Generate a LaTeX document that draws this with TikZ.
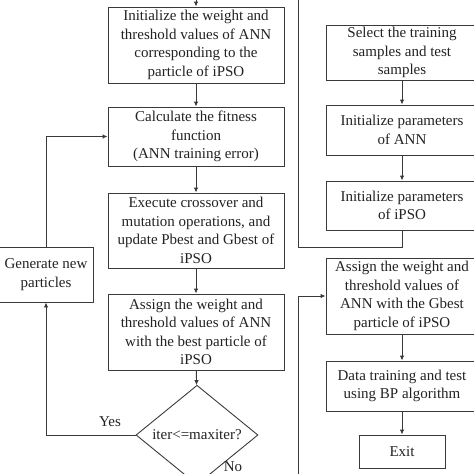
\documentclass[tikz,border=0pt]{standalone}
\usepackage{fontspec}
\setmainfont{Liberation Serif}
\usepackage{tikz}
\usetikzlibrary{shapes.geometric, arrows.meta}
\definecolor{lineColor}{HTML}{3A3A3A}
\definecolor{textColor}{HTML}{222222}

\begin{document}
\begin{tikzpicture}[x=1pt, y=1pt,
    box/.style={draw=lineColor, line width=0.9pt, align=center, inner sep=0pt,
        text=textColor, font=\fontsize{15}{18.5}\selectfont},
    arr/.style={draw=lineColor, line width=0.9pt, -{Latex[length=5pt, width=4.5pt]}},
    lbl/.style={text=textColor, font=\fontsize{15}{18.5}\selectfont}]
    \useasboundingbox (0,0) rectangle (474,-474);
    \clip (0,0) rectangle (474,-474);

    % left loop
    \node[box, minimum width=176pt, minimum height=76pt] (initW) at (196,-45)
        {Initialize the weight and\\threshold values of ANN\\corresponding to the\\particle of iPSO};
    \node[box, minimum width=176pt, minimum height=59pt] (fitness) at (196,-136.5)
        {Calculate the fitness\\function\\(ANN training error)};
    \node[box, minimum width=176pt, minimum height=75pt] (crossover) at (196,-230.5)
        {Execute crossover and\\mutation operations, and\\update Pbest and Gbest of\\iPSO};
    \node[box, minimum width=176pt, minimum height=76pt] (assignBest) at (196,-332)
        {Assign the weight and\\threshold values of ANN\\with the best particle of\\iPSO};
    \node[box, diamond, minimum width=122pt, minimum height=74pt] (iterCheck) at (197,-435)
        {iter<=maxiter?};
    \node[box, minimum width=95pt, minimum height=55pt] (newPart) at (46,-274.5)
        {Generate new\\particles};

    % right column
    \node[box, minimum width=152pt, minimum height=55pt] (select) at (402,-52.5)
        {Select the training\\samples and test\\samples};
    \node[box, minimum width=152pt, minimum height=50pt] (initANN) at (402,-130)
        {Initialize parameters\\of ANN};
    \node[box, minimum width=152pt, minimum height=49pt] (initPSO) at (402,-205.5)
        {Initialize parameters\\of iPSO};
    \node[box, minimum width=152pt, minimum height=76pt] (assignG) at (402,-296)
        {Assign the weight and\\threshold values of\\ANN with the Gbest\\particle of iPSO};
    \node[box, minimum width=152pt, minimum height=50pt] (bpTrain) at (402,-386)
        {Data training and test\\using BP algorithm};
    \node[box, minimum width=86pt, minimum height=33pt] (exit) at (402,-451.5) {Exit};

    \node[lbl] (yes) at (110,-422) {Yes};
    \node[lbl] (no) at (233,-467) {No};

    \coordinate (turnA) at (298,-247);
    \coordinate (turnB) at (298,20);
    \coordinate (turnC) at (298,-495);

    % connectors
    \draw[arr] (initW) -- (fitness);
    \draw[arr] (fitness) -- (crossover);
    \draw[arr] (crossover) -- (assignBest);
    \draw[arr] (assignBest) -- (iterCheck);
    \draw[arr] (iterCheck.west) -| (newPart.south);
    \draw[arr] (newPart.north) |- (fitness.west);

    \draw[arr] (select) -- (initANN);
    \draw[arr] (initANN) -- (initPSO);
    \draw[arr] (initPSO.south) |- (turnA) -- (turnB) -| (initW.north);
    \draw[arr] (iterCheck.south) |- (turnC) |- (assignG.west);
    \draw[arr] (assignG) -- (bpTrain);
    \draw[arr] (bpTrain) -- (exit);
\end{tikzpicture}
\end{document}
